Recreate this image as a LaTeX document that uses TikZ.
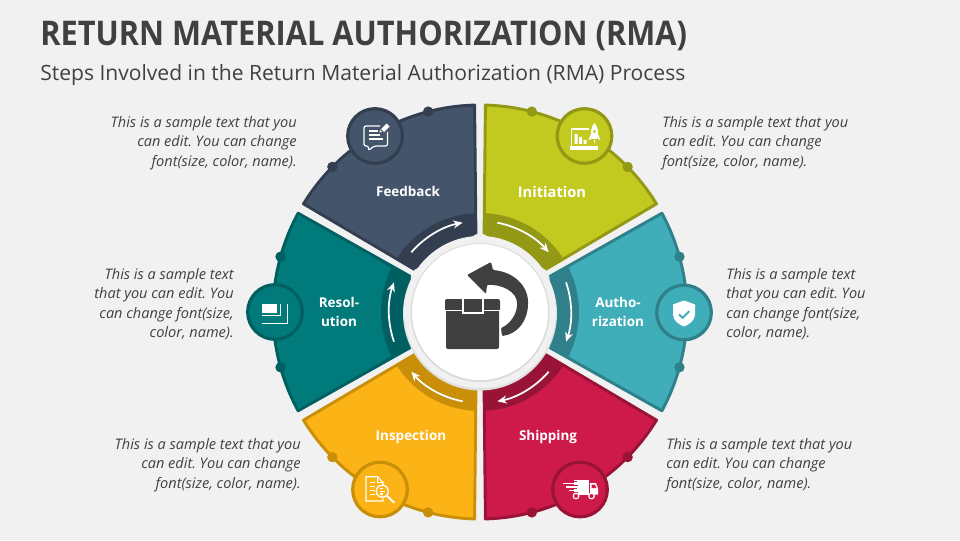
\documentclass[tikz,border=0pt]{standalone}
\usepackage{fontspec}
\setmainfont{Open Sans}
\newfontfamily\titlefont[FakeStretch=0.905]{Open Sans}
\usetikzlibrary{arrows.meta}
\definecolor{pagegray}{HTML}{F1F1F1}
\definecolor{inktext}{HTML}{404040}
\definecolor{slatefill}{HTML}{44546A}
\definecolor{slatedark}{HTML}{333F50}
\definecolor{limefill}{HTML}{C2CA20}
\definecolor{limedark}{HTML}{939915}
\definecolor{aquafill}{HTML}{3FAEB9}
\definecolor{aquadark}{HTML}{2F808A}
\definecolor{redfill}{HTML}{CD1A4A}
\definecolor{reddark}{HTML}{991337}
\definecolor{amberfill}{HTML}{FBB316}
\definecolor{amberdark}{HTML}{C98F08}
\definecolor{tealfill}{HTML}{007A7B}
\definecolor{tealdark}{HTML}{005F61}
\tikzset{
	bodytext/.style={font=\fontsize{10.9}{14.6}\selectfont\itshape, text=inktext, inner sep=0pt},
	steplabel/.style={font=\fontsize{10.1}{14.4}\selectfont\bfseries, text=white, align=center, inner sep=0pt},
	iconring/.style={circle, inner sep=0pt, minimum size=41pt, line width=2.4pt},
	iconline/.style={draw=white, line width=0.9pt},
	iconfill/.style={fill=white, draw=none}
}
% one petal: middle angle, fill, dark colour
\newcommand{\petal}[3]{
	\begin{scope}
		\clip (#1+28.5:207) arc[start angle=#1+28.5, end angle=#1-28.5, radius=207]
			-- (#1-27:78) -- (#1+27:78) -- cycle;
		\fill[#2] (0,0) circle (207);
		\fill[#3] (0,0) circle (99);
	\end{scope}
	\draw[#3, line width=2.2pt, line join=round] (#1-27:78) -- (#1-28.5:207)
		arc[start angle=#1-28.5, end angle=#1+28.5, radius=207] -- (#1+27:78);
	\fill[#3] (#1-15.5:207) circle (5.2);
	\fill[#3] (#1+15.5:207) circle (5.2);
	\draw[white, line width=1.3pt, -{Stealth[length=7pt,width=6pt]}]
		(#1+19:91) arc[start angle=#1+19, end angle=#1-19, radius=91];
}
\begin{document}
\frenchspacing
\begin{tikzpicture}[x=0.75pt,y=0.75pt]
	\fill[pagegray] (0,0) rectangle (960,540);
	\useasboundingbox (0,0) rectangle (960,540);

	\node[anchor=west, text=inktext, inner sep=0pt, font=\titlefont\fontsize{25.5}{30}\selectfont\bfseries] (title) at (40,504) {RETURN MATERIAL AUTHORIZATION (RMA)};
	\node[anchor=west, text=inktext, inner sep=0pt, font=\fontsize{15.8}{18}\selectfont] (subtitle) at (40,465) {Steps Involved in the Return Material Authorization (RMA) Process};

	\begin{scope}[shift={(480,228)}]
		\petal{120}{slatefill}{slatedark}
		\petal{60}{limefill}{limedark}
		\petal{0}{aquafill}{aquadark}
		\petal{-60}{redfill}{reddark}
		\petal{-120}{amberfill}{amberdark}
		\petal{180}{tealfill}{tealdark}

		\fill[black!12] (0,-1.5) circle (77);
		\fill[pagegray] (0,0) circle (76);
		\fill[black!14] (0,-0.5) circle (69.5);
		\fill[white] (0,0) circle (68);

		% box with return arrow
		\fill[inktext, rounded corners=1.5pt] (-34,4) rectangle (19,-37);
		\fill[inktext, rounded corners=1.5pt] (-35,13) rectangle (20,1);
		\draw[white, line width=0.7pt] (-35,2) -- (20,2);
		\fill[inktext] (-17,13) rectangle (3,-1);
		\draw[white, line width=0.9pt] (-17,13) -- (-17,-1) -- (3,-1) -- (3,13);
		\fill[inktext, rounded corners=0.8pt] (-13,37) -- (11,50) -- (13,42)
			.. controls (34,40) and (48,26) .. (48,9)
			.. controls (48,-8) and (38,-22) .. (22,-24) -- (21,-16)
			.. controls (30,-12) and (37,-2) .. (37,8)
			.. controls (37,20) and (22,28) .. (7,27) -- (6,18) -- cycle;

		\node[iconring, draw=slatedark, fill=slatefill] (iconfeedback) at (-105,176) {};
		\node[iconring, draw=limedark, fill=limefill] (iconinitiation) at (104.5,176) {};
		\node[iconring, draw=aquadark, fill=aquafill] (iconauthorization) at (204,-0.5) {};
		\node[iconring, draw=reddark, fill=redfill] (iconshipping) at (100,-177.5) {};
		\node[iconring, draw=amberdark, fill=amberfill] (iconinspection) at (-100,-177.5) {};
		\node[iconring, draw=tealdark, fill=tealfill] (iconresolution) at (-205,0) {};

		% speech bubble and pencil
		\begin{scope}[shift={(iconfeedback)}]
			\draw[iconline, rounded corners=1.5pt] (5,10) -- (-11,10) -- (-11,-10) -- (-6.5,-10) -- (-6.5,-14.5) -- (-1,-10) -- (12.5,-10) -- (12.5,4);
			\draw[iconline] (-6.5,5) -- (3,5) (-6.5,1) -- (4.5,1) (-6.5,-3) -- (8,-3);
			\fill[white] (6,7) -- (11.5,12.5) -- (14.5,9.5) -- (9,4) -- cycle;
			\fill[white] (5,6) -- (4.5,3.5) -- (7,4) -- cycle;
		\end{scope}
		% laptop and rocket
		\begin{scope}[shift={(iconinitiation)}]
			\draw[iconline] (4,7) -- (-13,7) -- (-13,-10);
			\fill[white] (-15,-10.5) rectangle (13,-14.5);
			\fill[white] (-10,-8) rectangle (-7,2) (-5.5,-8) rectangle (-2.5,-1) (-1,-8) rectangle (2,-4);
			\fill[white] (10,13) .. controls (13.5,9) and (14,5) .. (13,-3) -- (7,-3) .. controls (6,5) and (6.5,9) .. (10,13) -- cycle;
			\fill[white] (6.5,2) -- (4,-4) -- (7,-3) -- cycle (13.5,2) -- (16,-4) -- (13,-3) -- cycle;
			\fill[limefill] (10,4.5) circle (1.6);
			\draw[iconline] (10,-4.5) -- (10,-7);
		\end{scope}
		% shield with check mark
		\begin{scope}[shift={(iconauthorization)}]
			\fill[white] (0,12) -- (11,8) -- (11,-2) .. controls (11,-8) and (5,-12) .. (0,-14)
				.. controls (-5,-12) and (-11,-8) .. (-11,-2) -- (-11,8) -- cycle;
			\draw[aquafill, line width=1.5pt] (-5,-2) -- (-1.3,-5.3) -- (5.3,1.3);
		\end{scope}
		% truck with speed lines
		\begin{scope}[shift={(iconshipping)}]
			\fill[white] (-6,9.5) rectangle (9,-5);
			\fill[white] (10,6.5) -- (16,6.5) -- (18,1) -- (18,-5) -- (10,-5) -- cycle;
			\fill[redfill] (11.5,5) -- (15,5) -- (16.3,1.5) -- (11.5,1.5) -- cycle;
			\draw[iconline] (-17,6) -- (-6,6) (-14,2.5) -- (-6,2.5) (-11,-1) -- (-6,-1);
			\draw[redfill, line width=0.7pt] (-6,8) -- (-3,8) (-6,4.5) -- (-2,4.5) (-6,1) -- (-3,1) (-6,-3) -- (-2,-3);
			\filldraw[fill=redfill, draw=white, line width=0.9pt] (-4,-6.5) circle (2.8) (11.5,-6.5) circle (2.8);
		\end{scope}
		% document and magnifier
		\begin{scope}[shift={(iconinspection)}]
			\draw[iconline] (3,3) -- (3,7) -- (-2.5,12.7) -- (-14,12.7) -- (-14,-11.5) -- (3,-11.5) -- (3,-9);
			\draw[iconline] (-2.5,12.7) -- (-2.5,7) -- (3,7);
			\draw[iconline] (-10.5,7) -- (-5,7) (-10.5,3) -- (-5,3) (-10.5,-1) -- (-5,-1) (-10.5,-5) -- (-5,-5);
			\filldraw[fill=amberfill, draw=white, line width=1pt] (2.3,-1.7) circle (6);
			\draw[iconline] (-0.5,1) -- (3,1) (-0.5,-1.7) -- (5,-1.7) (-0.5,-4.4) -- (3,-4.4);
			\draw[white, line width=1.4pt] (6.8,-6.2) -- (14.3,-13.3);
		\end{scope}
		% stacked cards
		\begin{scope}[shift={(iconresolution)}]
			\fill[white] (-12.7,8.5) rectangle (1.7,-0.7);
			\draw[iconline, line width=1.2pt] (5.5,8.5) -- (5.5,-3.3) -- (-12.7,-3.3);
			\draw[iconline, line width=1.2pt] (12.5,8.5) -- (12.5,-11.5) -- (-12.7,-11.5);
		\end{scope}
	\end{scope}

	\node[steplabel] (feedback) at (408,348.5) {Feedback};
	\node[steplabel, font=\fontsize{11}{15}\selectfont\bfseries] (initiation) at (552,348.5) {Initiation};
	\node[steplabel] (authorization) at (618,228) {Autho-\\rization};
	\node[steplabel] (shipping) at (548,103) {Shipping};
	\node[steplabel] (inspection) at (411,103) {Inspection};
	\node[steplabel] (resolution) at (339,228) {Resol-\\ution};

	\node[bodytext, anchor=north east, align=right] (textfeedback) at (297,424) {This is a sample text that you\\can edit. You can change\\font(size, color, name).};
	\node[bodytext, anchor=north west, align=left] (textinitiation) at (662,424) {This is a sample text that you\\can edit. You can change\\font(size, color, name).};
	\node[bodytext, anchor=north east, align=right] (textresolution) at (234,272) {This is a sample text\\that you can edit. You\\can change font(size,\\color, name).};
	\node[bodytext, anchor=north west, align=left] (textauthorization) at (726,272) {This is a sample text\\that you can edit. You\\can change font(size,\\color, name).};
	\node[bodytext, anchor=north east, align=right] (textinspection) at (301,102) {This is a sample text that you\\can edit. You can change\\font(size, color, name).};
	\node[bodytext, anchor=north west, align=left] (textshipping) at (666,102) {This is a sample text that you\\can edit. You can change\\font(size, color, name).};
\end{tikzpicture}
\end{document}
